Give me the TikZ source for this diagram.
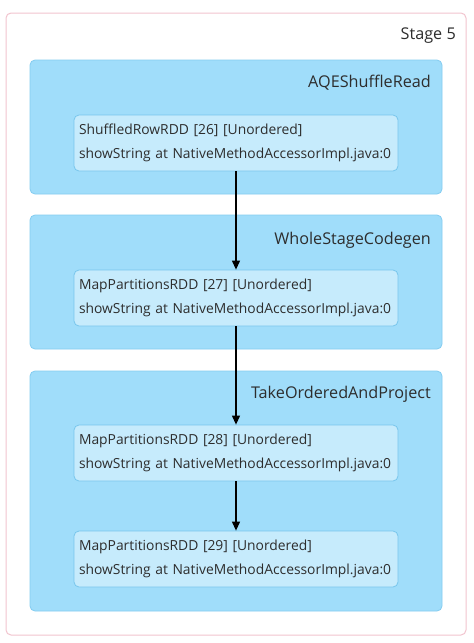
\documentclass[tikz,border=0pt]{standalone}
\usepackage{fontspec}
\setmainfont{Open Sans}
\usetikzlibrary{arrows.meta,positioning}
\definecolor{stageborder}{RGB}{242,196,206}
\definecolor{clusterfill}{RGB}{160,221,250}
\definecolor{clusterdraw}{RGB}{132,204,240}
\definecolor{rddfill}{RGB}{198,235,252}
\definecolor{rdddraw}{RGB}{120,198,236}
\definecolor{txtgray}{RGB}{45,45,45}
\tikzset{
  stagebox/.style={draw=stageborder, fill=white, rounded corners=5pt, line width=1pt},
  cluster/.style={draw=clusterdraw, fill=clusterfill, rounded corners=5pt,
                  minimum width=412pt, line width=0.8pt, inner sep=0pt},
  rdd/.style={draw=rdddraw, fill=rddfill, rounded corners=5pt, line width=0.8pt,
              minimum width=324pt, minimum height=56pt, text width=314pt, inner xsep=5pt, inner ysep=0pt,
              align=left, text=txtgray, font=\fontsize{13.85}{24}\selectfont},
  clab/.style={anchor=east, text=txtgray, inner sep=0pt, font=\fontsize{16.2}{18}\selectfont},
  dep/.style={-{Triangle[length=9pt,width=8pt]}, line width=1.1pt, black},
}
\begin{document}
\begin{tikzpicture}[x=1pt, y=-1pt]
    \useasboundingbox (0,0) rectangle (474,643);
    \draw[stagebox] (6,13) rectangle (466,635);
    \node[clab] (stagelab) at (456,36) {Stage 5};
    % clusters
    \node[cluster, minimum height=134pt] (aqe) at (236,127) {};
    \node[cluster, minimum height=134pt] (wsc) at (236,282) {};
    \node[cluster, minimum height=240pt] (top) at (236,491) {};
    \node[clab] (aqelab) at (431,83) {AQEShuffleRead};
    \node[clab] (wsclab) at (431,240) {WholeStageCodegen};
    \node[clab] (toplab) at (431,394) {TakeOrderedAndProject};
    % rdds
    \node[rdd] (r26) at (236,143) {ShuffledRowRDD [26] [Unordered]\\showString at NativeMethodAccessorImpl.java:0};
    \node[rdd] (r27) at (236,298) {MapPartitionsRDD [27] [Unordered]\\showString at NativeMethodAccessorImpl.java:0};
    \node[rdd] (r28) at (236,453) {MapPartitionsRDD [28] [Unordered]\\showString at NativeMethodAccessorImpl.java:0};
    \node[rdd] (r29) at (236,559) {MapPartitionsRDD [29] [Unordered]\\showString at NativeMethodAccessorImpl.java:0};
    % dependencies
    \draw[dep] (r26) -- (r27);
    \draw[dep] (r27) -- (r28);
    \draw[dep] (r28) -- (r29);
\end{tikzpicture}
\end{document}
